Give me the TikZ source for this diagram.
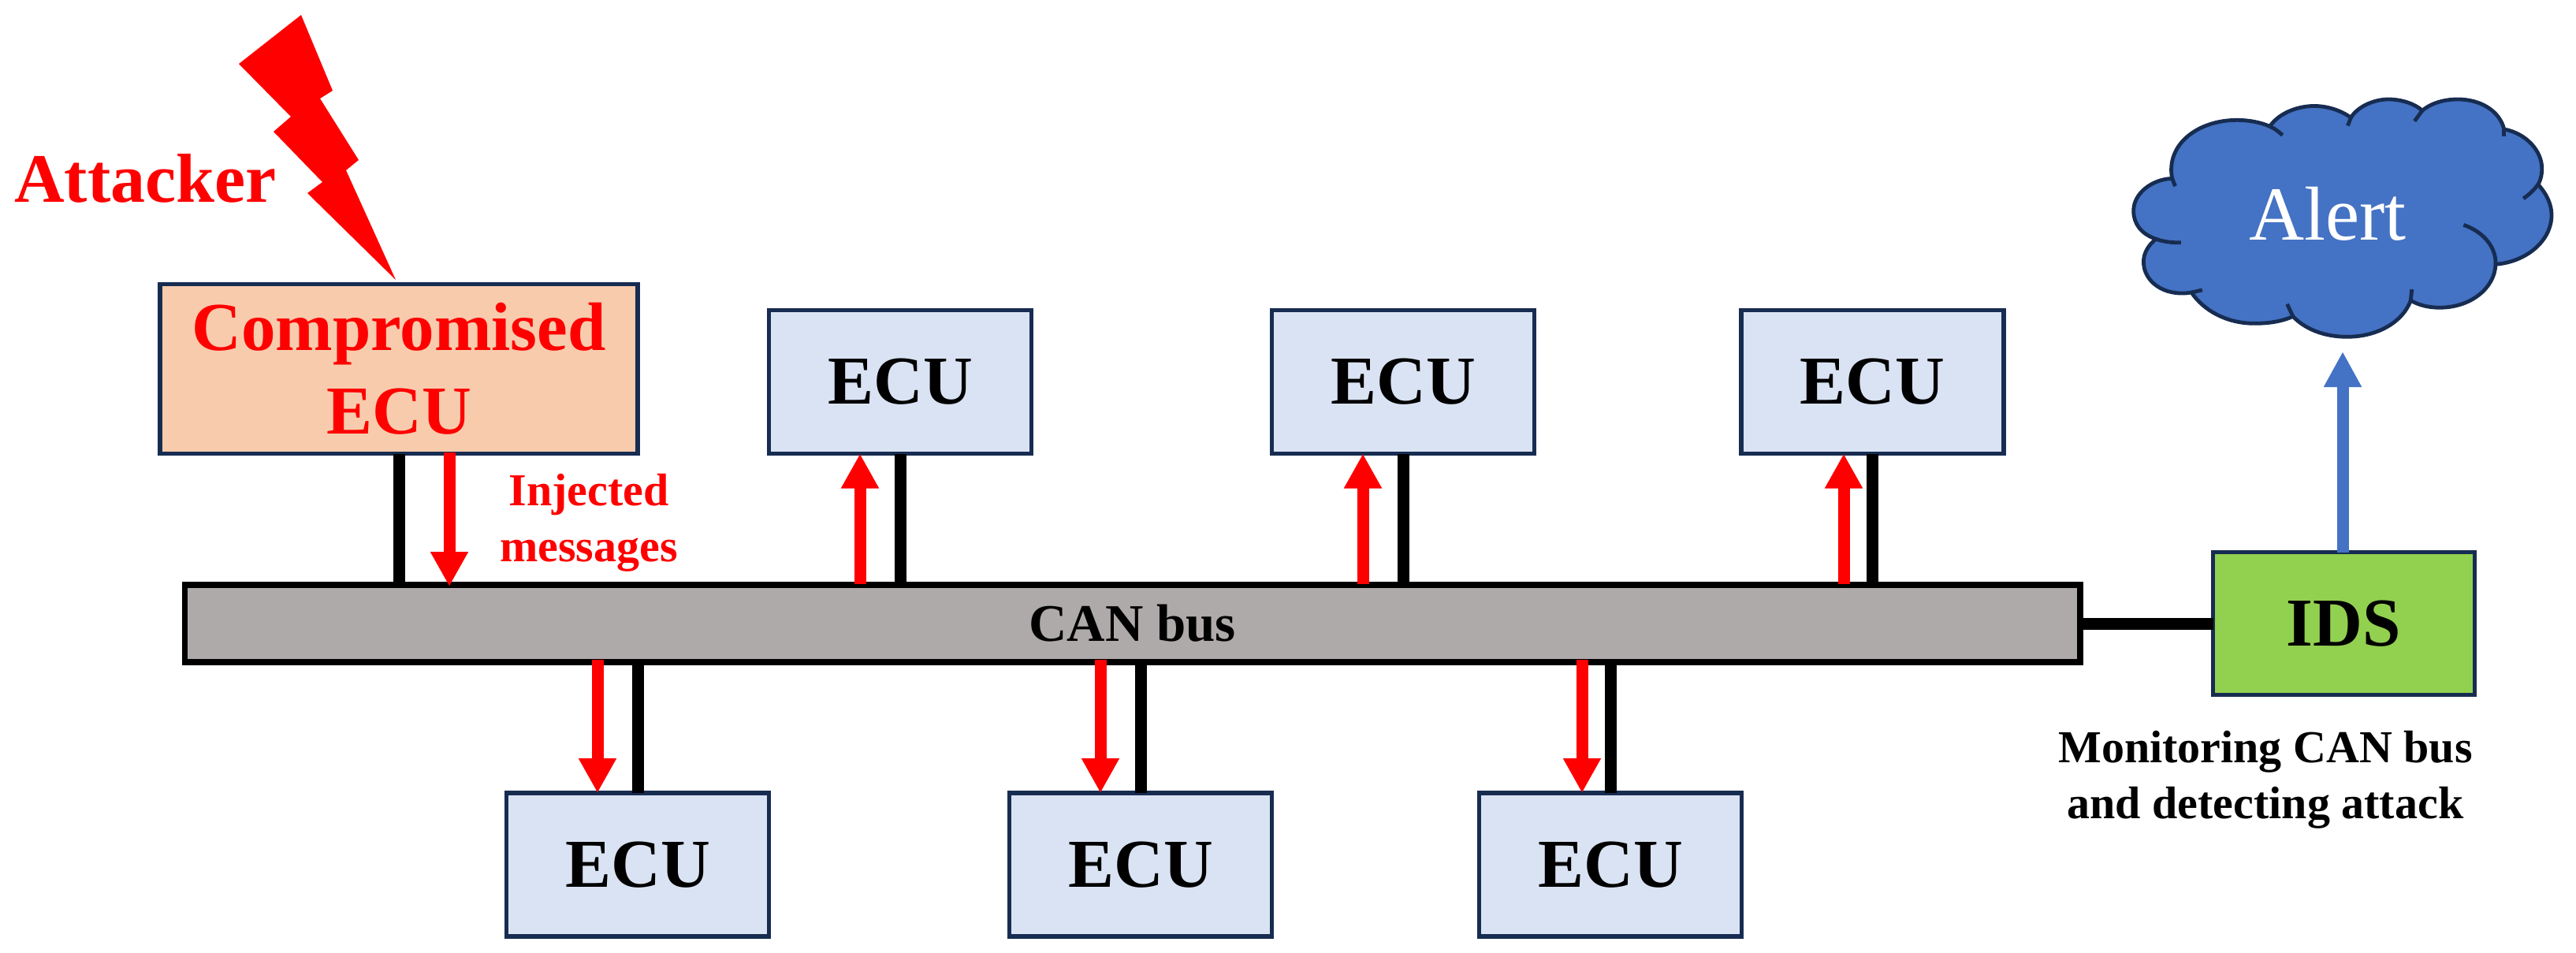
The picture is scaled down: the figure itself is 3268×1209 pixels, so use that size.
\documentclass[tikz,border=0pt]{standalone}
\usepackage{fontspec}
\setmainfont{Liberation Serif}
\usetikzlibrary{arrows.meta}
\definecolor{edgeblue}{HTML}{172C51}
\definecolor{ecufill}{HTML}{DAE3F3}
\definecolor{compfill}{HTML}{F8CBAD}
\definecolor{busfill}{HTML}{AEAAAA}
\definecolor{idsfill}{HTML}{92D050}
\definecolor{cloudfill}{HTML}{4472C4}
\tikzset{
  boxbase/.style={draw=edgeblue,line width=2.6pt,inner sep=0pt,outer sep=0pt,align=center,font=\bfseries\fontsize{43.5}{53}\selectfont},
  ecubox/.style={boxbase,fill=ecufill,minimum width=166.5pt,minimum height=91pt},
  compbox/.style={boxbase,fill=compfill,text=red,minimum width=303pt,minimum height=107.5pt},
  idsbox/.style={boxbase,fill=idsfill,minimum width=166pt,minimum height=90.5pt},
  busbox/.style={draw=black,fill=busfill,line width=3.6pt,inner sep=0pt,outer sep=0pt,minimum width=1202.25pt,minimum height=49pt,font=\bfseries\fontsize{33.5}{40}\selectfont},
  link/.style={draw=black,line width=7.5pt},
  redflow/.style={draw=red,line width=7.5pt,-{Triangle[length=22pt,width=22.5pt]},red},
  blueflow/.style={draw=cloudfill,line width=7.5pt,-{Triangle[length=22.5pt,width=22.5pt]},cloudfill},
  note/.style={inner sep=0pt,outer sep=0pt,align=center,font=\bfseries\fontsize{29}{35.5}\selectfont},
  cloudline/.style={draw=edgeblue,line width=2.4pt},
}
\begin{document}
\begin{tikzpicture}[x=0.5pt,y=-0.5pt]
\useasboundingbox (0,0) rectangle (3268,1209);
% bolt
\fill[red] (382,19) -- (422,115) -- (406,125) -- (455,203) -- (439,216) -- (502,355) -- (390,245) -- (409,231) -- (347,167) -- (369,148) -- (303,81) -- cycle;
\node[inner sep=0pt,anchor=base west,text=red,font=\bfseries\fontsize{44}{50}\selectfont] (attacker) at (18,257) {Attacker};
% nodes
\node[busbox] (bus) at (1436.75,791) {CAN bus};
\node[compbox] (comp) at (506,468) {Compromised\\ECU};
\node[ecubox] (t1) at (1142,484.5) {ECU};
\node[ecubox] (t2) at (1780,484.5) {ECU};
\node[ecubox] (t3) at (2375.5,484.5) {ECU};
\node[ecubox] (b1) at (809,1097) {ECU};
\node[ecubox] (b2) at (1447,1097) {ECU};
\node[ecubox] (b3) at (2043,1097) {ECU};
\node[idsbox] (ids) at (2973.5,791) {IDS};
\node[note,text=red] (inj) at (747,663) {Injected\\messages};
\node[note] (mon) at (2874,989) {Monitoring CAN bus\\and detecting attack};
% black links
\draw[link] (comp.south) -- (comp.south |- bus.north);
\foreach \n in {t1,t2,t3} \draw[link] (\n.south) -- (\n.south |- bus.north);
\foreach \n in {b1,b2,b3} \draw[link] (\n.north) -- (\n.north |- bus.south);
\draw[link] (bus.east) -- (ids.west);
% red flows
\draw[redflow] ([xshift=32pt,yshift=1pt]comp.south) -- ([xshift=32pt,yshift=-1pt]comp.south |- bus.north);
\draw[redflow] ([xshift=-25.5pt,yshift=0.5pt]t1.south |- bus.north) -- ([xshift=-25.5pt]t1.south);
\draw[redflow] ([xshift=-25.5pt,yshift=0.5pt]t2.south |- bus.north) -- ([xshift=-25.5pt]t2.south);
\draw[redflow] ([xshift=-18.25pt,yshift=0.5pt]t3.south |- bus.north) -- ([xshift=-18.25pt]t3.south);
\draw[redflow] ([xshift=-25.5pt,yshift=1.5pt]b1.north |- bus.south) -- ([xshift=-25.5pt]b1.north);
\draw[redflow] ([xshift=-25.5pt,yshift=1.5pt]b2.north |- bus.south) -- ([xshift=-25.5pt]b2.north);
\draw[redflow] ([xshift=-18pt,yshift=1.5pt]b3.north |- bus.south) -- ([xshift=-18pt]b3.north);
% cloud
\begin{scope}[shift={(2500,80)},xscale=0.4897,yscale=0.4464]
\path[fill=cloudfill,cloudline] (480,500)
 .. controls (440,485) and (422,455) .. (422,420) .. controls (422,370) and (470,330) .. (522,328)
 .. controls (505,230) and (590,162) .. (690,162) .. controls (720,162) and (750,168) .. (775,180)
 .. controls (800,140) and (850,122) .. (890,122) .. controls (925,122) and (960,135) .. (985,155)
 .. controls (1005,120) and (1050,103) .. (1082,103) .. controls (1115,103) and (1150,115) .. (1170,135)
 .. controls (1195,112) and (1230,103) .. (1262,103) .. controls (1320,103) and (1370,135) .. (1382,188)
 .. controls (1440,200) and (1480,250) .. (1480,300) .. controls (1480,315) and (1478,330) .. (1470,345)
 .. controls (1495,375) and (1505,405) .. (1505,432) .. controls (1505,505) and (1440,565) .. (1360,572)
 .. controls (1358,640) and (1295,695) .. (1215,695) .. controls (1190,695) and (1165,690) .. (1140,675)
 .. controls (1120,735) and (1055,778) .. (975,778) .. controls (915,778) and (865,755) .. (835,720)
 .. controls (805,735) and (770,740) .. (735,740) .. controls (665,740) and (605,705) .. (572,652)
 .. controls (500,665) and (448,620) .. (448,565) .. controls (448,540) and (460,518) .. (480,500) -- cycle;
\path[cloudline] (522,328) -- (530,350);
\path[cloudline] (775,180) .. controls (788,186) and (798,195) .. (808,205);
\path[cloudline] (985,155) -- (977,178);
\path[cloudline] (1170,135) -- (1150,165);
\path[cloudline] (1382,188) -- (1382,208);
\path[cloudline] (1470,345) .. controls (1460,360) and (1448,373) .. (1432,385);
\path[cloudline] (1360,572) .. controls (1362,525) and (1330,480) .. (1277,460);
\path[cloudline] (1140,675) -- (1143,643);
\path[cloudline] (835,720) -- (820,685);
\path[cloudline] (572,652) -- (600,645);
\path[cloudline] (480,500) .. controls (500,508) and (522,511) .. (545,510);
\end{scope}
\node[inner sep=0pt,anchor=base,text=white,font=\fontsize{48.5}{55}\selectfont] (alert) at (2953,305) {Alert};
\coordinate (alerttip) at (2972,446);
\draw[blueflow] (ids.north -| alerttip) -- (alerttip);
\end{tikzpicture}
\end{document}
